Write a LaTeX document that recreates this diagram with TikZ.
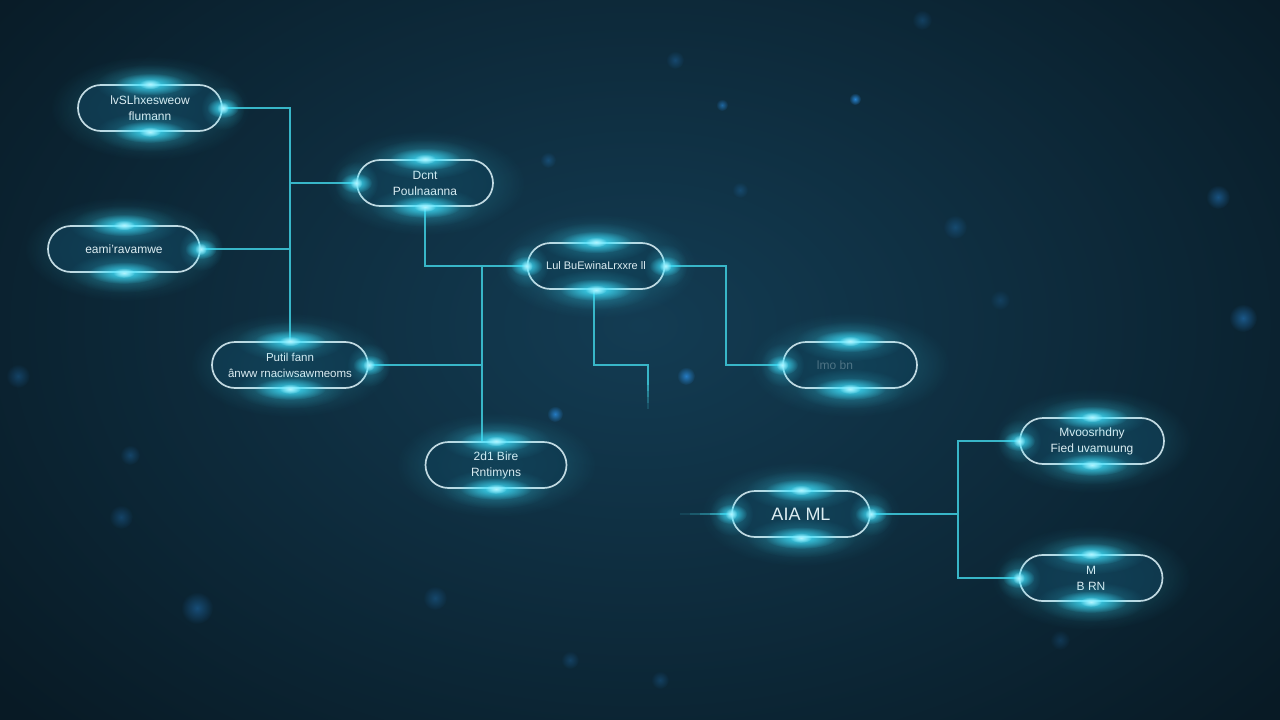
\documentclass[tikz,border=0pt]{standalone}
\usepackage{fontspec}
\setmainfont{Liberation Sans}
\usetikzlibrary{fadings,calc}
\tikzfading[name=glowfade, inner color=transparent!0, outer color=transparent!100]
\definecolor{bgin}{HTML}{133C53}
\definecolor{bgout}{HTML}{081A25}
\definecolor{linec}{HTML}{38B6C8}
\definecolor{glowc}{HTML}{3FE3FF}
\definecolor{nodeborder}{HTML}{C2DAE2}
\definecolor{nodefill}{HTML}{0F3A50}
\definecolor{textc}{HTML}{DCEDF2}
\definecolor{bokeh}{HTML}{2A8CE0}
\pgfdeclarelayer{bg}
\pgfsetlayers{bg,main}
\tikzset{
  pill/.style={draw=nodeborder, line width=1.7pt, fill=nodefill, fill opacity=0.85, text opacity=1,
    rounded corners=23pt, minimum height=46pt, inner sep=2pt, text=textc, align=center,
    font=\fontsize{12}{16}\selectfont},
  conn/.style={draw=linec, line width=1.3pt},
  halo/.style={fill=glowc, opacity=0.32, path fading=glowfade},
  flare/.style={fill=glowc, opacity=0.9, path fading=glowfade},
  wide/.style={fill=glowc, opacity=0.35, path fading=glowfade},
  core/.style={fill=white!60!glowc, path fading=glowfade},
  bok/.style={fill=bokeh, path fading=glowfade}
}
\newcommand\gdot[1]{\fill[wide] #1 circle (22pt); \fill[flare] #1 ellipse (16pt and 10pt); \fill[core] #1 circle (6pt);}
\newcommand\gflare[1]{\fill[wide] #1 ellipse (55pt and 20pt); \fill[flare] #1 ellipse (36pt and 11pt); \fill[core] #1 ellipse (11pt and 5pt);}
\begin{document}
\begin{tikzpicture}[x=1pt,y=-1pt]
\useasboundingbox (0,0) rectangle (1280,720);
% nodes
\node[pill, minimum width=144pt] (n1) at (150,108) {lvSLhxesweow\\ flumann};
\node[pill, minimum width=136pt] (n2) at (425,183) {Dcnt\\ Poulnaanna};
\node[pill, minimum width=152pt] (n3) at (124,249) {eami'ravamwe};
\node[pill, minimum width=137pt, font=\fontsize{11}{15}\selectfont] (n4) at (596,266) {Lul BuEwinaLrxxre ll};
\node[pill, minimum width=156pt, font=\fontsize{11.5}{16}\selectfont] (n5) at (290,365) {Putil fann\\ ânww rnaciwsawmeoms};
\node[pill, minimum width=134pt, text opacity=0.3] (n6) at (850,365) {lmo bn\hspace{30pt}};
\node[pill, minimum width=141pt] (n7) at (496,465) {2d1 Bire\\ Rntimyns};
\node[pill, minimum width=144pt] (n8) at (1092,441) {Mvoosrhdny\\ Fied uvamuung};
\node[pill, minimum width=138pt, font=\fontsize{18}{20}\selectfont] (n9) at (801,514) {AIA ML};
\node[pill, minimum width=143pt] (n10) at (1091,578) {M\\ B RN};
\coordinate (j2) at (482,266);
\coordinate (c1) at (648,365);
\coordinate (j3) at (726,365);
\coordinate (c2) at (680,514);
\coordinate (j4) at (958,514);
\begin{pgfonlayer}{bg}
  \fill[bgout] (0,0) rectangle (1280,720);
  \shade[inner color=bgin, outer color=bgout] (-200,-250) rectangle (1480,900);
  % bokeh
  \foreach \x/\y/\r/\o in {855/99/6/0.9, 722/105/6/0.6, 686/376/9/0.8, 555/414/8/0.8, 1218/197/12/0.45,
     1243/318/14/0.5, 197/608/16/0.4, 121/517/12/0.3, 18/376/12/0.3, 435/598/12/0.3, 955/227/12/0.3,
     922/20/10/0.25, 675/60/9/0.3, 130/455/10/0.3, 570/660/9/0.25, 660/680/9/0.25, 1060/640/10/0.2,
     548/160/8/0.3, 740/190/8/0.25, 1000/300/10/0.2}
    \fill[bok, opacity=\o] (\x,\y) circle (\r pt);
  % halos
  \foreach \n in {n1,n2,n3,n4,n5,n6,n7,n8,n9,n10}
    \fill[halo] (\n.center) ellipse (100pt and 52pt);
  % connectors
  \draw[conn] (n1.east) -| (n5.north);
  \draw[conn] (n2.west) -- (n2.west -| n5.north);
  \draw[conn] (n3.east) -- (n3.east -| n5.north);
  \draw[conn] (n2.south) |- (n4.west);
  \draw[conn] (j2) -- (j2 |- n7.north);
  \draw[conn] (n5.east) -- (n5.east -| j2);
  \draw[conn] (n4.south -| 594,0) |- (c1) -- ($(c1)+(0,20)$);
  \foreach \i/\o in {0/0.8,1/0.6,2/0.4,3/0.2}
    \draw[draw=linec, line width=1.3pt, opacity=\o] ($(c1)+(0,20+6*\i)$) -- ($(c1)+(0,26+6*\i)$);
  \draw[conn] (n4.east) -| (j3) -- (n6.west);
  \foreach \i/\o in {0/0.15,1/0.3,2/0.5,3/0.7,4/0.9}
    \draw[draw=linec, line width=1.3pt, opacity=\o] ($(c2)+(10*\i,0)$) -- ($(c2)+(10*\i+10,0)$);
  \draw[conn] ($(c2)+(50,0)$) -- (n9.west);
  \draw[conn] (n9.east) -- (j4);
  \draw[conn] (n8.west) -| (j4);
  \draw[conn] (n10.west) -| (j4);
\end{pgfonlayer}
% glow points
\foreach \n in {n1,n2,n3,n4,n5,n6,n7,n8,n9,n10}{
  \gflare{(\n.north)}
  \gflare{(\n.south)}
}
\gdot{(n1.east)}
\gdot{(n2.west)}
\gdot{(n3.east)}
\gdot{(n4.west)}
\gdot{(n4.east)}
\gdot{(n5.east)}
\gdot{(n6.west)}
\gdot{(n8.west)}
\gdot{(n9.west)}
\gdot{(n9.east)}
\gdot{(n10.west)}
\end{tikzpicture}
\end{document}
